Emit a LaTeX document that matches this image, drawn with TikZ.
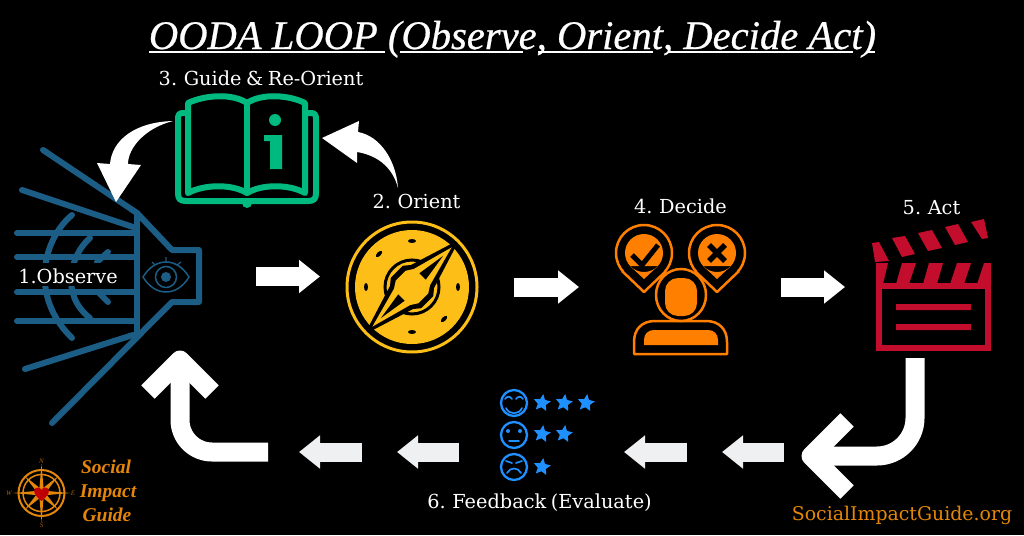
\documentclass[tikz,border=0pt]{standalone}
\usepackage{fontspec}
\setmainfont[WordSpace=0.75]{DejaVu Serif}
\newfontfamily\titlefont{Liberation Serif}
\newfontfamily\headfont[ItalicFeatures={FakeBold=0.6}]{Liberation Serif}
\usetikzlibrary{arrows.meta,shapes.geometric}
\definecolor{obsblue}{HTML}{1C5D85}
\definecolor{bookgreen}{HTML}{00B97F}
\definecolor{compassyellow}{HTML}{FDBF17}
\definecolor{decideorange}{HTML}{FF7F00}
\definecolor{actred}{HTML}{C20E2C}
\definecolor{starblue}{HTML}{1E90FF}
\definecolor{lightarrow}{HTML}{EFF0F2}
\definecolor{logoorange}{HTML}{E4860A}
\tikzset{
  label/.style={text=white, anchor=base, inner sep=0pt, font=\fontsize{19.3}{21}\selectfont},
  logotext/.style={text=logoorange, anchor=base, inner sep=0pt, font=\titlefont\bfseries\itshape\fontsize{19.5}{21}\selectfont},
  compassletter/.style={text=logoorange!70!black, inner sep=0pt, font=\titlefont\itshape\fontsize{7}{7}\selectfont},
  obsline/.style={draw=obsblue, line width=6pt, line cap=round, line join=round},
  bookline/.style={draw=bookgreen, line width=6pt, line cap=round, line join=round},
  blockarrow/.style={draw=white, line width=19pt, -{Triangle[width=32pt,length=21pt]}},
  backarrow/.style={draw=lightarrow, line width=19pt, -{Triangle[width=32pt,length=21pt]}},
  bendarrow/.style={draw=white, line width=19pt, line join=round},
  facestar/.style={star, star points=5, star point ratio=2.1, minimum size=18pt, inner sep=0pt, fill=starblue, rotate=-8},
  faceline/.style={draw=starblue, line width=1.7pt, line cap=round},
}
\begin{document}
\begin{tikzpicture}[x=1pt,y=-1pt]
\fill[black] (0,0) rectangle (1024,535);
\useasboundingbox (0,0) rectangle (1024,535);

% title
\node[text=white, anchor=base, inner sep=0pt, font=\headfont\itshape\fontsize{40.6}{42}\selectfont] (title) at (512.5,49) {OODA LOOP (Observe, Orient, Decide Act)};
\foreach \ulstart/\ulend in {149/385,400/523,538/653,668/853,867/875}
  \draw[white, line width=2.5pt] (\ulstart,52) -- (\ulend,52);

% observe icon
\draw[obsline] (43,150) -- (137,213) -- (172,250) -- (199,250) -- (199,302) -- (172,302) -- (52,423);
\draw[obsline] (22,190) -- (133,227);
\draw[obsline] (25,369) -- (133,335);
\draw[obsline] (137,213) -- (137,335);
\foreach \ypos in {233,257,292,321}
  \draw[obsline] (17,\ypos) -- (134,\ypos);
\draw[obsline] (72,215) .. controls (44,238) and (28,295) .. (72,338);
\draw[obsline] (90,238) .. controls (70,255) and (60,295) .. (90,318);
\draw[obsline] (108,252) -- (97,262);
\draw[obsline] (108,302) -- (98,292);
\fill[black] (18,263) rectangle (128,286);
\node[label] (observe) at (68,283) {1.Observe};
\draw[obsblue, line width=1.5pt] (143,277) .. controls (155,257) and (177,257) .. (189,277) .. controls (177,297) and (155,297) .. (143,277) -- cycle;
\draw[obsblue, line width=1.5pt] (166,277) circle (10.5);
\fill[obsblue] (166,277) circle (5);
\draw[obsblue, line width=1.3pt] (166,257) -- (166,262) (152,262) -- (155,265) (181,262) -- (177,265);

% book icon
\draw[bookline] (188,113) -- (183,113) .. controls (179,113) and (178,115) .. (178,119) -- (178,193) .. controls (178,199) and (180,201) .. (186,201) -- (308,201) .. controls (314,201) and (316,199) .. (316,193) -- (316,119) .. controls (316,115) and (315,113) .. (311,113) -- (305,113);
\draw[bookline] (188,193) -- (188,103) .. controls (205,95) and (232,93) .. (247,103) .. controls (262,93) and (289,95) .. (305,103) -- (305,193) .. controls (289,184) and (262,184) .. (247,193) .. controls (232,184) and (205,184) .. (188,193);
\draw[bookline] (247,103) -- (247,193);
\fill[bookgreen] (247,203) circle (5);
\fill[bookgreen] (275,120) circle (6);
\fill[bookgreen] (264,135) -- (282,135) -- (282,169) -- (270,169) -- (270,141) -- (264,141) -- cycle;

% compass icon
\draw[compassyellow, line width=3pt] (412,287) circle (65);
\fill[compassyellow] (412,287) circle (57);
\draw[black, line width=3pt] (412,287) circle (27);
\fill[black] (412,241) ellipse (4 and 2) (412,332) ellipse (4 and 2) (366,287) ellipse (2 and 4) (458,287) ellipse (2 and 4);
\fill[black, rotate around={45:(379,254)}] (379,254) ellipse (4 and 2);
\fill[black, rotate around={45:(444,319)}] (444,319) ellipse (4 and 2);
\begin{scope}[shift={(412,287)},x={(0.707pt,0.707pt)},y={(0.707pt,-0.707pt)}]
  \draw[black, line width=3pt, line join=round, fill=black] (62,0) -- (14,15) -- (8,20) -- (-8,20) -- (-14,15) -- (-62,0) -- (-14,-15) -- (-8,-20) -- (8,-20) -- (14,-15) -- cycle;
  \fill[compassyellow] (56,0) -- (14,11.5) -- (7,16) -- (-7,16) -- (-14,11.5) -- (-56,0) -- (-14,-11.5) -- (-7,-16) -- (7,-16) -- (14,-11.5) -- cycle;
  \fill[black] (44,0) -- (15,4.5) -- (15,-4.5) -- cycle;
  \fill[black] (-44,0) -- (-15,4.5) -- (-15,-4.5) -- cycle;
\end{scope}

% decide icon
\draw[decideorange, line width=2.5pt] (644,253) circle (28);
\draw[decideorange, line width=2.5pt] (717,253) circle (28);
\draw[decideorange, line width=2.5pt, fill=black, line join=round] (622,271) -- (644,292) -- (666,271);
\draw[decideorange, line width=2.5pt, fill=black, line join=round] (695,271) -- (717,292) -- (739,271);
\fill[decideorange] (644,253) circle (19) (630,266) -- (644,279) -- (658,266) -- cycle;
\fill[decideorange] (717,253) circle (19) (703,266) -- (717,279) -- (731,266) -- cycle;
\draw[black, line width=5pt] (632,255) -- (642,265) -- (658,245);
\draw[black, line width=5.5pt] (709,245) -- (725,261) (725,245) -- (709,261);
\draw[decideorange, line width=2.5pt, line join=round] (634,354) -- (634,342) .. controls (634,329) and (642,321) .. (655,321) -- (706,321) .. controls (719,321) and (727,329) .. (727,342) -- (727,354) -- cycle;
\fill[decideorange] (644,345) -- (644,340) .. controls (644,334) and (648,330) .. (654,330) -- (708,330) .. controls (714,330) and (718,334) .. (718,340) -- (718,345) -- cycle;
\draw[decideorange, line width=2.5pt, fill=black] (681,295) ellipse (25 and 26);
\fill[decideorange, rounded corners=13pt] (665,278) rectangle (697,316);

% act icon
\draw[actred, line width=6pt] (879,286) rectangle (988,348);
\fill[actred] (896,304) rectangle (971,310) (896,324) rectangle (971,330);
\foreach \pa/\pb/\pc/\pd in {876/888/883/876,902/916/909/896,929/943/937/923,957/971/964/950,984/991/991/977}
  \fill[actred] (\pa,263) -- (\pb,263) -- (\pc,284) -- (\pd,284) -- cycle;
\fill[actred] (872,243) -- (879,242) -- (889,261) -- (875,262) -- cycle;
\fill[actred] (892,238) -- (905,236) -- (915,254) -- (902,257) -- cycle;
\fill[actred] (918,233) -- (932,230) -- (942,248) -- (928,251) -- cycle;
\fill[actred] (945,227) -- (958,224) -- (968,242) -- (955,245) -- cycle;
\fill[actred] (971,222) -- (984,219) -- (988,238) -- (982,239) -- cycle;

% feedback icon
\foreach \yface in {403,435,467}
  \draw[starblue, line width=2.3pt] (514,\yface) circle (13);
\draw[faceline] (505,399) .. controls (507,396) and (510,396) .. (512,399);
\draw[faceline] (516,399) .. controls (518,396) and (521,396) .. (523,399);
\draw[faceline] (506,408) .. controls (509,415) and (519,415) .. (522,408);
\fill[starblue] (508,431) circle (2) (520,431) circle (2);
\draw[faceline] (509,441) -- (519,441);
\draw[faceline] (506,461) -- (512,463) (522,461) -- (516,463);
\draw[faceline] (507,473) .. controls (510,467) and (518,467) .. (521,473);
\foreach \xstar/\ystar in {542/403,564/403,586/403,542/434,564/434,542/467}
  \node[facestar] at (\xstar,\ystar) {};

% arrows
\coordinate (obsend) at (256,276.5);
\coordinate (oriin) at (320,276.5);
\coordinate (oriout) at (514,287);
\coordinate (decin) at (579,287);
\coordinate (decout) at (781,287);
\coordinate (actin) at (845,287);
\draw[blockarrow] (obsend) -- (oriin);
\draw[blockarrow] (oriout) -- (decin);
\draw[blockarrow] (decout) -- (actin);
\foreach \xfrom/\xto in {784/722,687/624,459/397,362/299}
  \draw[backarrow] (\xfrom,452) -- (\xto,452);
\coordinate (actout) at (915,358);
\coordinate (fbin) at (811,456);
\draw[bendarrow, rounded corners=38pt] (actout) |- (fbin);
\draw[bendarrow] (847,420) -- (fbin) -- (847,492);
\coordinate (fbout) at (268,452);
\coordinate (obsin) at (180,360);
\draw[bendarrow, rounded corners=32pt] (fbout) -| (obsin);
\draw[bendarrow] (148,392) -- (obsin) -- (212,392);
\fill[white] (173,121) .. controls (135,122) and (112,140) .. (110,164) -- (97,163) -- (116,202) -- (141,165) -- (128,164) .. controls (128,148) and (145,128) .. (173,121) -- cycle;
\fill[white] (398,188) .. controls (396,160) and (380,136) .. (358,132) -- (359,121) -- (322,138) -- (357,163) -- (357,152) .. controls (375,155) and (392,165) .. (398,188) -- cycle;

% labels
\node[label] (orient) at (416.5,208) {2. Orient};
\node[label] (guide) at (261,85) {3. Guide \& Re-Orient};
\node[label] (decide) at (680.5,213) {4. Decide};
\node[label] (act) at (931.5,214) {5. Act};
\node[label] (feedback) at (539.5,508) {6. Feedback (Evaluate)};
\node[label, text=logoorange, font=\fontsize{18.9}{21}\selectfont] (website) at (902,520) {SocialImpactGuide.org};
\node[logotext] (logoa) at (106,473) {Social};
\node[logotext] (logob) at (108,497.5) {Impact};
\node[logotext] (logoc) at (107,521) {Guide};

% logo compass
\draw[logoorange, line width=2pt] (41.5,493) circle (23);
\draw[logoorange, line width=1.5pt] (41.5,493) circle (18.5);
\foreach \ang in {0,90,180,270}
  \fill[logoorange, shift={(41.5,493)}, rotate=\ang] (-2.5,0) -- (0,-29) -- (2.5,0) -- cycle;
\foreach \ang in {45,135,225,315}
  \fill[logoorange, shift={(41.5,493)}, rotate=\ang] (-3,0) -- (0,-24) -- (3,0) -- cycle;
\fill[red!75!black] (41.5,501) .. controls (34,495) and (33,491) .. (35,488.5) .. controls (37,486.5) and (40,487) .. (41.5,490) .. controls (43,487) and (46,486.5) .. (48,488.5) .. controls (50,491) and (49,495) .. (41.5,501) -- cycle;
\node[compassletter] (logon) at (41.5,461) {N};
\node[compassletter] (logos) at (41.5,525) {S};
\node[compassletter] (logow) at (9,493) {W};
\node[compassletter] (logoe) at (73,493) {E};
\end{tikzpicture}
\end{document}
